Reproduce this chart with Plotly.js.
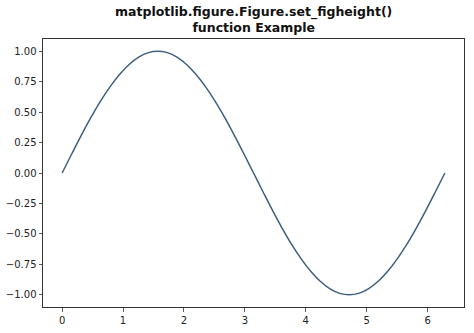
<!DOCTYPE html>
<html><head><meta charset="utf-8">
<script src="https://cdn.plot.ly/plotly-3.0.1.min.js"></script>
<style>html,body{margin:0;padding:0;background:#fff}</style>
</head><body><div id="chart" style="width:474px;height:333px"></div>
<script>
var xValues = [0, 0.157, 0.314, 0.471, 0.628, 0.785, 0.942, 1.100, 1.257, 1.414, 1.571, 1.728, 1.885, 2.042, 2.199, 2.356, 2.513, 2.670, 2.827, 2.985, 3.142, 3.299, 3.456, 3.613, 3.770, 3.927, 4.084, 4.241, 4.398, 4.555, 4.712, 4.869, 5.027, 5.184, 5.341, 5.498, 5.655, 5.812, 5.969, 6.126, 6.283];
var yValues = [0, 0.156, 0.309, 0.454, 0.588, 0.707, 0.809, 0.891, 0.951, 0.988, 1.0, 0.988, 0.951, 0.891, 0.809, 0.707, 0.588, 0.454, 0.309, 0.156, 0, -0.156, -0.309, -0.454, -0.588, -0.707, -0.809, -0.891, -0.951, -0.988, -1.0, -0.988, -0.951, -0.891, -0.809, -0.707, -0.588, -0.454, -0.309, -0.156, 0];
var xTicks = [0, 1, 2, 3, 4, 5, 6];
var yTicks = [-1.0, -0.75, -0.5, -0.25, 0, 0.25, 0.5, 0.75, 1.0];
var yTickLabels = ['\u22121.00', '\u22120.75', '\u22120.50', '\u22120.25', '0.00', '0.25', '0.50', '0.75', '1.00'];
var titleText = '<b>matplotlib.figure.Figure.set_figheight()<br>function Example</b>';

var trace = {x: xValues, y: yValues, type: 'scatter', mode: 'lines',
  line: {color: '#3e5f7f', width: 1.5, shape: 'spline'}, hoverinfo: 'none'};

var axisCommon = {showgrid: false, zeroline: false, showline: true, mirror: true,
  linecolor: '#333', linewidth: 1, ticks: 'outside', ticklen: 3.5, tickwidth: 0.8,
  tickcolor: '#333', tickfont: {family: 'DejaVu Sans', size: 10, color: '#222'}};

var layout = {
  width: 474, height: 333,
  margin: {l: 43, r: 10, t: 39, b: 26},
  paper_bgcolor: '#fff', plot_bgcolor: '#fff',
  showlegend: false,
  annotations: [{text: titleText, xref: 'paper', yref: 'paper', x: 0.5, y: 1,
    xanchor: 'center', yanchor: 'bottom', yshift: 2, showarrow: false,
    font: {family: 'DejaVu Sans', size: 12.5, color: '#111'}}],
  xaxis: Object.assign({}, axisCommon, {range: [-0.314, 6.597], tickvals: xTicks, ticktext: xTicks.map(String)}),
  yaxis: Object.assign({}, axisCommon, {range: [-1.1, 1.1], tickvals: yTicks, ticktext: yTickLabels})
};
Plotly.newPlot('chart', [trace], layout, {staticPlot: true});
</script></body></html>
